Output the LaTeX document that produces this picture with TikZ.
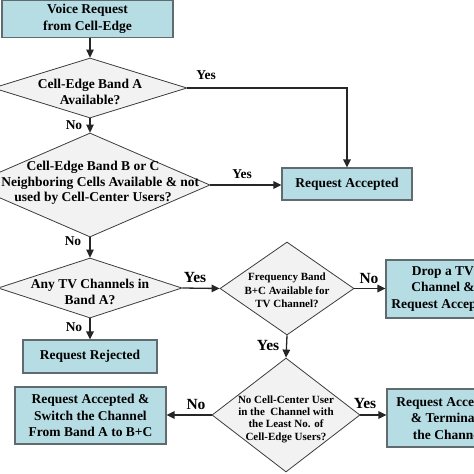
\documentclass[tikz,border=0pt]{standalone}
\usepackage{fontspec}
\setmainfont{Liberation Serif}
\usetikzlibrary{shapes.geometric,arrows.meta}
\definecolor{boxfill}{HTML}{B7DDE4}
\definecolor{boxline}{HTML}{5F6B6E}
\definecolor{dfill}{HTML}{F2F2F2}
\definecolor{dline}{HTML}{3C3C3C}
\begin{document}
\begin{tikzpicture}[x=1pt,y=-1pt,
  box/.style={draw=boxline,line width=1.1pt,fill=boxfill,rectangle,inner sep=0pt,
    align=center,font=\fontsize{13.5}{16.5}\selectfont\bfseries},
  dia/.style={draw=dline,line width=0.8pt,fill=dfill,diamond,inner sep=0pt},
  dtext/.style={align=center,font=\fontsize{13.5}{15.5}\selectfont\bfseries},
  dsmall/.style={align=center,font=\fontsize{11}{13.3}\selectfont\bfseries},
  arr/.style={-{Triangle[length=8pt,width=7.5pt]},line width=1.3pt,draw=black!85},
  lbl/.style={font=\fontsize{13.5}{15}\selectfont\bfseries,inner sep=0pt},
  lblbig/.style={font=\fontsize{15.5}{17}\selectfont\bfseries,inner sep=0pt}]
\useasboundingbox (0,0) rectangle (474,474);
\clip (0,0) rectangle (474,474);

% nodes
\node[box,minimum width=171pt,minimum height=37pt] (start) at (87.5,18.75)
  {Voice Request\\from Cell-Edge};
\node[dia,minimum width=194pt,minimum height=60pt] (d1) at (90,88)
  [label={[dtext,yshift=-4pt]center:{Cell-Edge Band A\\Available?}}] {};
\node[dia,minimum width=240pt,minimum height=104pt] (d2) at (90,185)
  [label={[dtext,yshift=2pt,xshift=3pt]center:{Cell-Edge Band B or C\\of Neighboring Cells Available \& not\\used by Cell-Center Users?}}] {};
\node[box,minimum width=130pt,minimum height=32pt] (acc) at (347,184) {Request Accepted};
\node[dia,minimum width=184pt,minimum height=60pt] (d3) at (90,288)
  [label={[dtext,yshift=-4pt]center:{Any TV Channels in\\Band A?}}] {};
\node[box,minimum width=134pt,minimum height=33pt] (rej) at (90,356.5) {Request Rejected};
\node[dia,minimum width=134pt,minimum height=93pt] (d4) at (287,288.5)
  [label={[dsmall,yshift=-2pt]center:{Frequency Band\\B+C Available for\\TV Channel?}}] {};
\node[box,minimum width=112pt,minimum height=58pt] (drop) at (442,289)
  {\hspace*{2pt}Drop a TV\\\hspace*{2pt}Channel \&\\\hspace*{2pt}Request Accepted};
\node[dia,minimum width=148pt,minimum height=114pt] (d5) at (286,415)
  [label={[dsmall,yshift=-4pt,font=\fontsize{11}{12.3}\selectfont\bfseries]center:{No Cell-Center User\\in the\ \ Channel with\\the Least No. of\\Cell-Edge Users?}}] {};
\node[box,minimum width=151pt,minimum height=57pt] (sw) at (90.5,415.5)
  {Request Accepted \&\\Switch the Channel\\From Band A to B+C};
\node[box,minimum width=122pt,minimum height=58pt] (term) at (448,418)
  {Request Accepted\\\& Terminate\\the Channel};

% connectors
\draw[arr] (d1.north |- start.south) -- (d1.north);
\draw[arr] (d1.east) -| (acc.north);
\draw[arr] (d1.south) -- (d2.north);
\draw[arr] (d2.east) -- (d2.east -| acc.west);
\draw[arr] (d2.south) -- (d3.north);
\draw[arr] (d3.east) -- (d4.west);
\draw[arr] (d3.south) -- (rej.north);
\draw[arr] (d4.east) -- (d4.east -| drop.west);
\draw[arr] (d4.south) -- (d5.north);
\draw[arr] (d5.west) -- (d5.west -| sw.east);
\draw[arr] (d5.east) -- (d5.east -| term.west);

% labels
\node[lbl] (ly1) at (206,75) {Yes};
\node[lbl] (ln1) at (74,125) {No};
\node[lbl] (ly2) at (242,174) {Yes};
\node[lbl] (ln2) at (73,241) {No};
\node[lblbig] (ly3) at (195,277) {Yes};
\node[lbl] (ln3) at (74,327) {No};
\node[lblbig] (ln4) at (369,278) {No};
\node[lblbig] (ly4) at (268,345) {Yes};
\node[lblbig] (ln5) at (196,404) {No};
\node[lblbig] (ly5) at (365,403) {Yes};
\end{tikzpicture}
\end{document}
